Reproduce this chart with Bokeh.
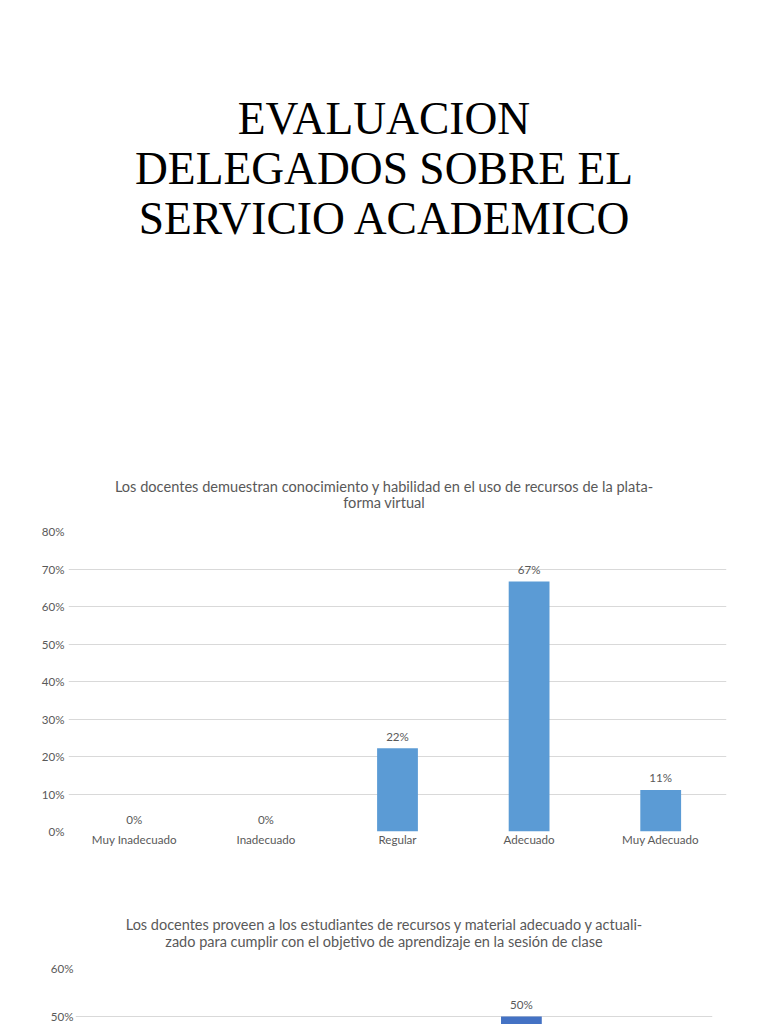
from bokeh.plotting import figure
from bokeh.models import Div, FixedTicker, NumeralTickFormatter, Range1d
from bokeh.core.properties import value
from bokeh.embed import file_html
from bokeh.resources import INLINE

# ---- data ----
page_title = ["EVALUACION", "DELEGADOS SOBRE EL", "SERVICIO ACADEMICO"]

title1 = ["Los docentes demuestran conocimiento y habilidad en el uso de recursos de la plata-",
          "forma virtual"]
categories = ["Muy Inadecuado", "Inadecuado", "Regular", "Adecuado", "Muy Adecuado"]
values1 = [0.0, 0.0, 0.222, 0.667, 0.111]
labels1 = ["0%", "0%", "22%", "67%", "11%"]
yticks1 = [0, 0.1, 0.2, 0.3, 0.4, 0.5, 0.6, 0.7, 0.8]

title2 = ["Los docentes proveen a los estudiantes de recursos y material adecuado y actuali-",
          "zado para cumplir con el objetivo de aprendizaje en la sesión de clase"]
# only the top of the second chart is visible; only the Adecuado bar is readable
categories2 = ["Adecuado"]
values2 = [0.50]
labels2 = ["50%"]
yticks2 = [0.5, 0.6]

GRAY = "#595959"
GRID = "#D9D9D9"
FONT = "Lato"
W = 768

title_div = Div(
    text='<div style="font-family:\'Liberation Serif\',serif;font-size:45.5px;line-height:50px;'
         'color:#000;text-align:center;padding-top:94px;width:768px;">'
         + "<br>".join(page_title) + "</div>",
    width=W, height=470, margin=0)

t1_div = Div(
    text=f'<div style="font-family:{FONT},sans-serif;font-size:14.6px;line-height:16px;'
         f'color:{GRAY};text-align:center;padding-top:9px;width:768px;">'
         + "<br>".join(title1) + "</div>",
    width=W, height=50, margin=0)


def style(p, yticks, standoff):
    p.outline_line_color = None
    p.xgrid.grid_line_color = None
    p.ygrid.grid_line_color = GRID
    p.ygrid.grid_line_width = 1
    p.yaxis.ticker = FixedTicker(ticks=yticks)
    p.yaxis.formatter = NumeralTickFormatter(format="0%")
    for ax in (p.xaxis, p.yaxis):
        ax.axis_line_color = None
        ax.major_tick_line_color = None
        ax.minor_tick_line_color = None
        ax.major_tick_out = 0
        ax.major_tick_in = 0
        ax.minor_tick_out = 0
        ax.major_label_text_font = FONT
        ax.major_label_text_font_size = "11.6px"
        ax.major_label_text_color = GRAY
    p.yaxis.major_label_standoff = standoff
    p.xaxis.major_label_standoff = 1
    p.x_range.range_padding = 0
    p.background_fill_color = "white"
    p.border_fill_color = "white"


p1 = figure(x_range=categories, width=W, height=350, output_backend="svg",
            toolbar_location=None, min_border_left=68, min_border_right=42,
            min_border_top=11, min_border_bottom=39, margin=0)
p1.y_range = Range1d(0, 0.8)
p1.vbar(x=categories, top=values1, width=0.31, fill_color="#5B9BD5", line_color=None)
p1.text(x=categories, y=values1, text=labels1, text_align="center",
        text_baseline="alphabetic", y_offset=-12, text_font=value(FONT),
        text_font_size="11.6px", text_color=GRAY)
style(p1, yticks1, 4)

t2_div = Div(
    text=f'<div style="font-family:{FONT},sans-serif;font-size:14.5px;line-height:17px;'
         f'color:{GRAY};text-align:center;padding-top:46px;width:768px;">'
         + "<br>".join(title2) + "</div>",
    width=W, height=85, margin=0)

p2 = figure(x_range=categories, width=W, height=69, output_backend="svg",
            toolbar_location=None, min_border_left=75, min_border_right=56,
            min_border_top=13, min_border_bottom=0, margin=0)
p2.y_range = Range1d(0.48333, 0.6)
p2.vbar(x=categories2, top=values2, width=0.32, fill_color="#4472C4", line_color=None)
p2.text(x=categories2, y=values2, text=labels2, text_align="center",
        text_baseline="alphabetic", y_offset=-12, text_font=value(FONT),
        text_font_size="11.6px", text_color=GRAY)
style(p2, yticks2, 2)
p2.xaxis.visible = False

roots = [title_div, t1_div, p1, t2_div, p2]
open("out.html", "w").write(file_html(roots, INLINE))
